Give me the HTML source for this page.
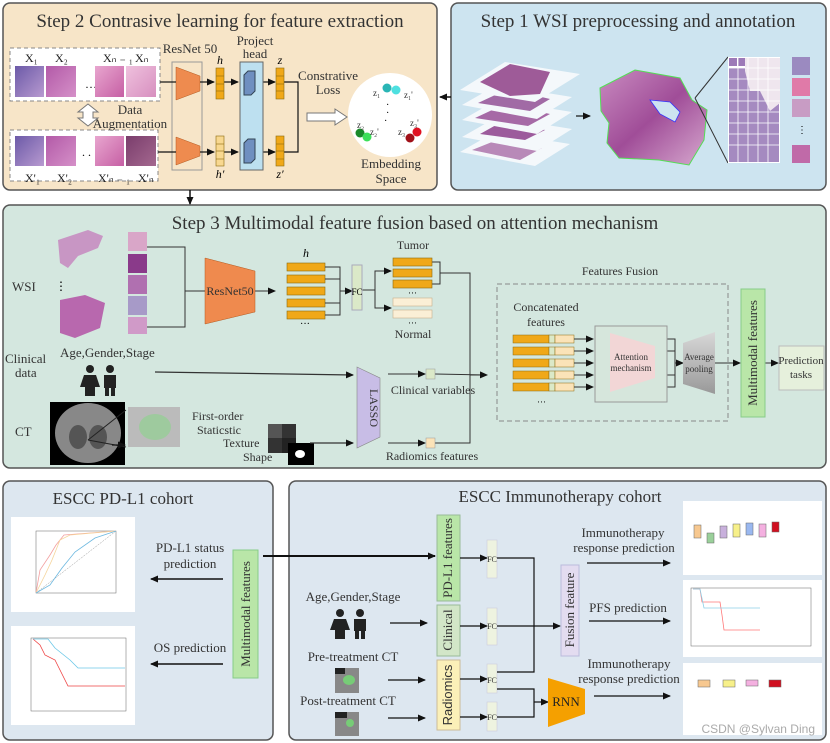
<!DOCTYPE html>
<html><head><meta charset="utf-8"><style>
html,body{margin:0;padding:0;background:#fff;}
svg{display:block;font-family:"Liberation Serif",serif;}
</style></head><body>
<svg width="830" height="743" viewBox="0 0 830 743" xmlns="http://www.w3.org/2000/svg">
<defs>
<marker id="a" markerWidth="8" markerHeight="8" refX="7" refY="4" orient="auto" markerUnits="userSpaceOnUse"><path d="M0,0.5 L8,4 L0,7.5z" fill="#111"/></marker>
<linearGradient id="tis" x1="0" y1="0" x2="1" y2="1"><stop offset="0" stop-color="#c98bc0"/><stop offset="0.5" stop-color="#a04d98"/><stop offset="1" stop-color="#d7a9cf"/></linearGradient>
<linearGradient id="pat1" x1="0" y1="0" x2="1" y2="1"><stop offset="0" stop-color="#6c5aa8"/><stop offset="1" stop-color="#b89ad0"/></linearGradient>
<linearGradient id="pat2" x1="0" y1="0" x2="1" y2="1"><stop offset="0" stop-color="#b35aa8"/><stop offset="1" stop-color="#d590c8"/></linearGradient>
<linearGradient id="pat3" x1="0" y1="0" x2="1" y2="1"><stop offset="0" stop-color="#e8a6cf"/><stop offset="1" stop-color="#c65fa4"/></linearGradient>
<linearGradient id="pat4" x1="0" y1="0" x2="1" y2="1"><stop offset="0" stop-color="#7a3d6c"/><stop offset="1" stop-color="#a4688f"/></linearGradient>
<linearGradient id="grey" x1="0" y1="0" x2="0" y2="1"><stop offset="0" stop-color="#d8d8d8"/><stop offset="1" stop-color="#999"/></linearGradient>
</defs>

<!-- Panels -->
<rect x="3" y="3" width="434" height="187" rx="7" fill="#f7e5c8" stroke="#555" stroke-width="1.5"/>
<rect x="451" y="3" width="375" height="187" rx="7" fill="#cde4f0" stroke="#555" stroke-width="1.5"/>
<rect x="3" y="205" width="823" height="263" rx="7" fill="#d4e7df" stroke="#555" stroke-width="1.5"/>
<rect x="3" y="481" width="270" height="259" rx="7" fill="#dde7f0" stroke="#555" stroke-width="1.5"/>
<rect x="289" y="481" width="537" height="259" rx="7" fill="#dde7f0" stroke="#555" stroke-width="1.5"/>

<!-- Step 2 -->
<text x="220" y="27" font-size="19" text-anchor="middle" fill="#333">Step 2 Contrasive learning for feature extraction</text>
<rect x="10" y="48" width="150" height="53" fill="#fff" stroke="#888" stroke-dasharray="4,3"/>
<rect x="10" y="130" width="148" height="51" fill="#fff" stroke="#888" stroke-dasharray="4,3"/>
<g font-size="12" fill="#222">
<text x="25" y="62">X₁</text><text x="55" y="62">X₂</text><text x="103" y="62">Xₙ ₋ ₁</text><text x="135" y="62">Xₙ</text>
<text x="25" y="182">X'₁</text><text x="57" y="182">X'₂</text><text x="98" y="182">X'ₙ ₋ ₁</text><text x="138" y="182">X'ₙ</text>
</g>
<rect x="15" y="66" width="29" height="31" fill="url(#pat1)"/><rect x="46" y="66" width="30" height="31" fill="url(#pat2)"/>
<text x="85" y="88" font-size="12">…</text>
<rect x="95" y="66" width="29" height="31" fill="url(#pat3)"/><rect x="126" y="66" width="30" height="31" fill="url(#pat3)" opacity="0.7"/>
<rect x="15" y="136" width="29" height="30" fill="url(#pat1)"/><rect x="46" y="136" width="30" height="30" fill="url(#pat2)"/>
<text x="82" y="156" font-size="12">. .</text>
<rect x="95" y="136" width="29" height="30" fill="url(#pat3)"/><rect x="126" y="136" width="30" height="30" fill="url(#pat4)"/>
<path d="M88,104 l-10,8 h5 v6 h-5 l10,8 l10,-8 h-5 v-6 h5z" fill="#fff" stroke="#777"/>
<text x="130" y="114" font-size="13" text-anchor="middle" fill="#333">Data</text>
<text x="130" y="128" font-size="13" text-anchor="middle" fill="#333">Augmentation</text>
<text x="190" y="53" font-size="13" text-anchor="middle" fill="#333">ResNet 50</text>
<rect x="172" y="62" width="30" height="108" fill="none" stroke="#999"/>
<path d="M176,67 L200,76 L200,91 L176,100z" fill="#ee8b4f" stroke="#b35a20" stroke-width="0.5"/>
<path d="M176,137 L200,146 L200,156 L176,165z" fill="#ee8b4f" stroke="#b35a20" stroke-width="0.5"/>
<g stroke="#111" stroke-width="1.2" fill="none">
<line x1="160" y1="82" x2="176" y2="82"/><line x1="158" y1="152" x2="176" y2="152"/>
<line x1="200" y1="82" x2="214" y2="82" marker-end="url(#a)"/><line x1="200" y1="152" x2="214" y2="152" marker-end="url(#a)"/>
<line x1="224" y1="82" x2="238" y2="82" marker-end="url(#a)"/><line x1="224" y1="152" x2="238" y2="152" marker-end="url(#a)"/>
<line x1="263" y1="82" x2="275" y2="82" marker-end="url(#a)"/><line x1="263" y1="152" x2="275" y2="152" marker-end="url(#a)"/>
<polyline points="284,82 298,82 298,152 284,152"/>
</g>
<g stroke="#8a6a10" stroke-width="0.6">
<rect x="216" y="68" width="8" height="31" fill="#f0a818"/><line x1="216" y1="76" x2="224" y2="76"/><line x1="216" y1="84" x2="224" y2="84"/><line x1="216" y1="91" x2="224" y2="91"/>
<rect x="216" y="136" width="8" height="30" fill="#f8d890"/><line x1="216" y1="144" x2="224" y2="144"/><line x1="216" y1="151" x2="224" y2="151"/><line x1="216" y1="159" x2="224" y2="159"/>
<rect x="276" y="68" width="8" height="31" fill="#f0a818"/><line x1="276" y1="76" x2="284" y2="76"/><line x1="276" y1="84" x2="284" y2="84"/><line x1="276" y1="91" x2="284" y2="91"/>
<rect x="276" y="136" width="8" height="30" fill="#f0a818"/><line x1="276" y1="144" x2="284" y2="144"/><line x1="276" y1="151" x2="284" y2="151"/><line x1="276" y1="159" x2="284" y2="159"/>
</g>
<text x="220" y="64" font-size="12" font-style="italic" text-anchor="middle">h</text>
<text x="220" y="178" font-size="12" font-style="italic" text-anchor="middle">h′</text>
<text x="280" y="64" font-size="12" font-style="italic" text-anchor="middle">z</text>
<text x="280" y="178" font-size="12" font-style="italic" text-anchor="middle">z′</text>
<text x="255" y="45" font-size="13" text-anchor="middle" fill="#333">Project</text>
<text x="255" y="58" font-size="13" text-anchor="middle" fill="#333">head</text>
<rect x="240" y="62" width="23" height="108" fill="#bde0f0" stroke="#666"/>
<path d="M244,75 l4,-4 h7 v20 l-4,4 h-7z" fill="#6f8fc0" stroke="#345"/>
<path d="M244,143 l4,-4 h7 v20 l-4,4 h-7z" fill="#6f8fc0" stroke="#345"/>
<text x="328" y="80" font-size="13" text-anchor="middle" fill="#333">Constrative</text>
<text x="328" y="94" font-size="13" text-anchor="middle" fill="#333">Loss</text>
<path d="M307,113 h28 v-4 l12,8 l-12,8 v-4 h-28z" fill="#fff" stroke="#777"/>
<circle cx="390" cy="115" r="42" fill="#fff"/>
<circle cx="387" cy="88" r="4.5" fill="#2ab5b5"/><circle cx="396" cy="90" r="4.5" fill="#4ee0e0"/>
<circle cx="360" cy="133" r="4.5" fill="#1a8a2a"/><circle cx="367" cy="137" r="4.5" fill="#3ce05a"/>
<circle cx="417" cy="132" r="4.5" fill="#e01020"/><circle cx="410" cy="138" r="4.5" fill="#a01018"/>
<g font-size="9" fill="#333"><text x="373" y="96">z₁</text><text x="404" y="98">z₁'</text><text x="357" y="128">z₂</text><text x="370" y="135">z₂'</text><text x="398" y="135">z₃</text><text x="410" y="126">z₃'</text></g>
<text x="386" y="108" font-size="10">·</text><text x="386" y="116" font-size="10">·</text><text x="384" y="124" font-size="10">·</text>
<text x="391" y="168" font-size="13" text-anchor="middle" fill="#333">Embedding</text>
<text x="391" y="183" font-size="13" text-anchor="middle" fill="#333">Space</text>
<line x1="451" y1="97" x2="440" y2="97" stroke="#111" stroke-width="1.5" marker-end="url(#a)"/>
<line x1="190" y1="190" x2="190" y2="204" stroke="#111" stroke-width="1.5" marker-end="url(#a)"/>

<!-- Step 1 -->
<text x="638" y="27" font-size="19" text-anchor="middle" fill="#333">Step 1 WSI preprocessing and annotation</text>
<g>
<path d="M460,152 l35,-20 l75,12 l-35,22z" fill="#f4f8fb"/><path d="M472,150 l30,-12 l40,10 l-22,12z" fill="#b889b8"/>
<path d="M462,137 l35,-20 l75,12 l-35,22z" fill="#f4f8fb"/><path d="M480,134 l25,-14 l40,10 l-20,10z" fill="#9c5b9c"/>
<path d="M462,120 l35,-20 l75,12 l-35,22z" fill="#f4f8fb"/><path d="M475,118 l30,-14 l45,10 l-22,12z" fill="#a66aa6"/>
<path d="M462,105 l35,-20 l75,12 l-35,22z" fill="#f4f8fb"/><path d="M478,103 l30,-14 l42,10 l-20,12z" fill="#a16aa5"/>
<path d="M460,90 l45,-28 l75,12 l-45,28z" fill="#f4f8fb"/><path d="M480,82 l30,-18 l40,8 l-10,22 l-30,2z" fill="#9e5b98"/>
</g>
<line x1="576" y1="116" x2="590" y2="116" stroke="#111" stroke-width="1.2" marker-end="url(#a)"/>
<path d="M600,88 l35,-18 l45,8 l12,22 l15,10 l-3,30 l-15,25 l-30,-5 l-40,-2 l-12,-15 l2,-20 l-8,-12z" fill="url(#tis)" stroke="#5d5" stroke-width="1"/>
<path d="M650,100 l20,2 l10,10 l-5,10 l-15,-8z" fill="#cde4f0" stroke="#33f" stroke-width="0.8"/>
<line x1="695" y1="98" x2="728" y2="57" stroke="#333"/><line x1="695" y1="98" x2="728" y2="163" stroke="#333"/>
<rect x="728" y="57" width="52" height="106" fill="#fff"/>
<g fill="#9d7ab8">
<rect x="729" y="58" width="8" height="8"/><rect x="738" y="58" width="8" height="8"/>
<rect x="729" y="68" width="50" height="94" fill="#a58ac0"/>
</g>
<path d="M745,58 h35 v45 l-10,8 l-10,-20 l-10,0 l-5,-20z" fill="#efe6ee"/>
<g stroke="#fff" stroke-width="0.8"><line x1="728" y1="68" x2="780" y2="68"/><line x1="728" y1="79" x2="780" y2="79"/><line x1="728" y1="90" x2="780" y2="90"/><line x1="728" y1="101" x2="780" y2="101"/><line x1="728" y1="112" x2="780" y2="112"/><line x1="728" y1="123" x2="780" y2="123"/><line x1="728" y1="134" x2="780" y2="134"/><line x1="728" y1="145" x2="780" y2="145"/><line x1="738" y1="57" x2="738" y2="163"/><line x1="748" y1="57" x2="748" y2="163"/><line x1="758" y1="57" x2="758" y2="163"/><line x1="768" y1="57" x2="768" y2="163"/></g>
<rect x="792" y="57" width="18" height="18" fill="#9b8ac0"/><rect x="792" y="78" width="18" height="18" fill="#e07aa8"/><rect x="792" y="99" width="18" height="18" fill="#c89cc4"/>
<text x="797" y="133" font-size="10">⋮</text><rect x="792" y="145" width="18" height="18" fill="#c06aa8"/>

<!-- Step 3 -->
<text x="415" y="229" font-size="19" text-anchor="middle" fill="#333">Step 3 Multimodal feature fusion based on attention mechanism</text>
<g font-size="13" fill="#333">
<text x="12" y="291">WSI</text><text x="5" y="363">Clinical</text><text x="15" y="377">data</text><text x="15" y="436">CT</text>
<text x="60" y="357">Age,Gender,Stage</text>
</g>
<path d="M58,240 l30,-10 l15,6 l-5,12 l-20,8 l-10,12 l-8,-5z" fill="#c896c4"/>
<text x="55" y="290" font-size="12">⋮</text>
<path d="M60,300 l25,-5 l20,8 l-5,25 l-25,10 l-15,-5z" fill="#b868ae"/>
<rect x="128" y="232" width="19" height="19" fill="#d9a6c8"/><rect x="128" y="254" width="19" height="19" fill="#8a3a8a"/><rect x="128" y="275" width="19" height="19" fill="#b070b0"/><rect x="128" y="296" width="19" height="19" fill="#a79ac8"/><rect x="128" y="317" width="19" height="17" fill="#d09ac8"/>
<g stroke="#333" stroke-width="1" fill="none">
<polyline points="147,247 185,247 185,327 147,327"/>
<line x1="185" y1="291" x2="205" y2="291"/>
<line x1="255" y1="291" x2="275" y2="291" marker-end="url(#a)"/>
</g>
<path d="M205,258 L255,271 L255,312 L205,324z" fill="#ef8a4e" stroke="#b35a20" stroke-width="0.5"/>
<text x="230" y="295" font-size="12" text-anchor="middle" fill="#333">ResNet50</text>
<text x="306" y="257" font-size="12" font-style="italic" text-anchor="middle">h</text>
<g fill="#f0a818" stroke="#8a6a10" stroke-width="0.6">
<rect x="287" y="263" width="38" height="8"/><rect x="287" y="275" width="38" height="8"/><rect x="287" y="287" width="38" height="8"/><rect x="287" y="299" width="38" height="8"/><rect x="287" y="311" width="38" height="8"/>
</g>
<text x="300" y="327" font-size="10">···</text>
<g stroke="#333" stroke-width="1" fill="none">
<polyline points="325,267 340,267 340,315 325,315"/><line x1="325" y1="279" x2="340" y2="279"/><line x1="325" y1="303" x2="340" y2="303"/>
<line x1="340" y1="291" x2="352" y2="291" marker-end="url(#a)"/>
<polyline points="362,290 375,290 375,271 391,271" marker-end="url(#a)"/>
<polyline points="375,290 375,308 391,308" marker-end="url(#a)"/>
<polyline points="432,262 440,262 440,284 432,284"/>
<polyline points="440,273 470,273 470,375 487,375"/>
</g>
<rect x="352" y="265" width="10" height="45" fill="#dbe9c8" stroke="#aab"/>
<text x="357" y="295" font-size="9" text-anchor="middle">FC</text>
<text x="413" y="249" font-size="12" text-anchor="middle" fill="#333">Tumor</text>
<g fill="#f0a818" stroke="#8a6a10" stroke-width="0.6"><rect x="393" y="258" width="39" height="8"/><rect x="393" y="269" width="39" height="8"/><rect x="393" y="280" width="39" height="8"/></g>
<text x="408" y="296" font-size="9">···</text>
<g fill="#fbefd6" stroke="#c8b08a" stroke-width="0.6"><rect x="393" y="298" width="39" height="8"/><rect x="393" y="310" width="39" height="8"/></g>
<text x="408" y="326" font-size="9">···</text>
<text x="413" y="338" font-size="12" text-anchor="middle" fill="#333">Normal</text>
<g fill="#222">
<circle cx="90" cy="369" r="4"/><path d="M84,375 h12 l4,12 h-5 v9 h-10 v-9 h-5z"/>
<circle cx="110" cy="369" r="4"/><rect x="104" y="375" width="12" height="13"/><rect x="105" y="388" width="4" height="8"/><rect x="111" y="388" width="4" height="8"/>
</g>
<line x1="155" y1="372" x2="353" y2="375" stroke="#333" stroke-width="1.2" marker-end="url(#a)"/>
<rect x="50" y="402" width="75" height="63" fill="#000"/>
<ellipse cx="88" cy="433" rx="33" ry="30" fill="#888"/>
<ellipse cx="78" cy="437" rx="9" ry="12" fill="#555"/><ellipse cx="98" cy="437" rx="9" ry="12" fill="#555"/>
<line x1="88" y1="440" x2="126" y2="410" stroke="#222"/><line x1="88" y1="440" x2="126" y2="447" stroke="#222"/>
<rect x="128" y="407" width="52" height="40" fill="#bbb"/><ellipse cx="155" cy="427" rx="16" ry="13" fill="#9c9" opacity="0.85"/>
<line x1="112" y1="445" x2="125" y2="445" stroke="#111" stroke-width="1.2" marker-end="url(#a)"/>
<g font-size="12" fill="#333"><text x="192" y="420">First-order</text><text x="197" y="434">Staticstic</text><text x="223" y="447">Texture</text><text x="243" y="461">Shape</text></g>
<rect x="268" y="424" width="28" height="29" fill="#333"/><rect x="268" y="424" width="14" height="14" fill="#555"/><rect x="282" y="438" width="14" height="15" fill="#222"/>
<rect x="288" y="443" width="26" height="22" fill="#000"/><ellipse cx="300" cy="454" rx="5" ry="4" fill="#fff"/>
<line x1="310" y1="443" x2="353" y2="443" stroke="#333" stroke-width="1.2" marker-end="url(#a)"/>
<path d="M357,367 L380,378 L380,437 L357,448z" fill="#c8bde6" stroke="#888" stroke-width="0.6"/>
<text x="370" y="408" font-size="12" text-anchor="middle" transform="rotate(90 370 408)" fill="#333">LASSO</text>
<g stroke="#333" stroke-width="1" fill="none">
<line x1="388" y1="374" x2="425" y2="374" marker-end="url(#a)"/><line x1="435" y1="374" x2="487" y2="375" marker-end="url(#a)"/>
<line x1="388" y1="443" x2="425" y2="443" marker-end="url(#a)"/><polyline points="435,443 470,443 470,375"/>
</g>
<rect x="426" y="369" width="9" height="10" fill="#dbe9c8" stroke="#999" stroke-width="0.5"/>
<rect x="426" y="438" width="9" height="10" fill="#fbe3b8" stroke="#999" stroke-width="0.5"/>
<text x="433" y="394" font-size="12" text-anchor="middle" fill="#333">Clinical variables</text>
<text x="432" y="460" font-size="12" text-anchor="middle" fill="#333">Radiomics features</text>
<text x="620" y="275" font-size="12" text-anchor="middle" fill="#333">Features Fusion</text>
<rect x="497" y="284" width="231" height="137" fill="none" stroke="#888" stroke-dasharray="5,3"/>
<text x="546" y="311" font-size="12" text-anchor="middle" fill="#333">Concatenated</text>
<text x="546" y="326" font-size="12" text-anchor="middle" fill="#333">features</text>
<g stroke="#8a6a10" stroke-width="0.5">
<g fill="#f0a818"><rect x="513" y="335" width="36" height="8"/><rect x="513" y="347" width="36" height="8"/><rect x="513" y="359" width="36" height="8"/><rect x="513" y="371" width="36" height="8"/><rect x="513" y="383" width="36" height="8"/></g>
<g fill="#dbe9c8"><rect x="549" y="335" width="6" height="8"/><rect x="549" y="347" width="6" height="8"/><rect x="549" y="359" width="6" height="8"/><rect x="549" y="371" width="6" height="8"/><rect x="549" y="383" width="6" height="8"/></g>
<g fill="#fbe3b8"><rect x="555" y="335" width="19" height="8"/><rect x="555" y="347" width="19" height="8"/><rect x="555" y="359" width="19" height="8"/><rect x="555" y="371" width="19" height="8"/><rect x="555" y="383" width="19" height="8"/></g>
</g>
<text x="537" y="405" font-size="9">···</text>
<g stroke="#333" stroke-width="1" fill="none">
<line x1="574" y1="339" x2="593" y2="339" marker-end="url(#a)"/><line x1="574" y1="351" x2="593" y2="351" marker-end="url(#a)"/><line x1="574" y1="363" x2="593" y2="363" marker-end="url(#a)"/><line x1="574" y1="375" x2="593" y2="375" marker-end="url(#a)"/><line x1="574" y1="387" x2="593" y2="387" marker-end="url(#a)"/>
<polyline points="667,339 675,339 675,387 667,387"/><line x1="667" y1="351" x2="675" y2="351"/><line x1="667" y1="375" x2="675" y2="375"/>
<line x1="675" y1="363" x2="683" y2="363" marker-end="url(#a)"/>
<line x1="715" y1="363" x2="740" y2="363" marker-end="url(#a)"/>
<line x1="765" y1="363" x2="778" y2="363" marker-end="url(#a)"/>
</g>
<rect x="595" y="326" width="72" height="76" fill="#d6e6dc" stroke="#999"/>
<path d="M610,333 L655,346 L655,378 L610,392z" fill="#f2d6d6"/>
<text x="631" y="360" font-size="9" text-anchor="middle" fill="#333">Attention</text>
<text x="631" y="371" font-size="9" text-anchor="middle" fill="#333">mechanism</text>
<path d="M683,343 L715,332 L715,394 L683,384z" fill="url(#grey)"/>
<text x="699" y="360" font-size="9" text-anchor="middle" fill="#333">Average</text>
<text x="699" y="372" font-size="9" text-anchor="middle" fill="#333">pooling</text>
<rect x="741" y="289" width="24" height="128" fill="#b9e6a8" stroke="#8c8" />
<text x="753" y="353" font-size="13" text-anchor="middle" transform="rotate(-90 753 353)" dy="4" fill="#333">Multimodal features</text>
<rect x="779" y="346" width="45" height="44" fill="#e6f0dc" stroke="#bbb"/>
<text x="801" y="364" font-size="11" text-anchor="middle" fill="#333">Prediction</text>
<text x="801" y="378" font-size="11" text-anchor="middle" fill="#333">tasks</text>

<!-- Bottom left -->
<text x="123" y="504" font-size="17" text-anchor="middle" fill="#333">ESCC PD-L1 cohort</text>
<rect x="11" y="517" width="124" height="95" fill="#fff"/>
<rect x="36" y="531" width="80" height="62" fill="none" stroke="#666" stroke-width="0.5"/>
<line x1="36" y1="593" x2="116" y2="531" stroke="#999" stroke-width="0.5" stroke-dasharray="2,1"/>
<polyline points="36,593 40,570 50,555 56,545 64,535 116,531" fill="none" stroke="#f3a0a0" stroke-width="0.8"/>
<polyline points="36,593 45,575 52,560 60,540 70,535 116,531" fill="none" stroke="#f5d49a" stroke-width="0.8"/>
<polyline points="36,593 50,585 62,568 75,552 95,538 116,531" fill="none" stroke="#6cb8e0" stroke-width="0.8"/>
<rect x="11" y="626" width="124" height="99" fill="#fff"/>
<rect x="31" y="638" width="95" height="73" fill="none" stroke="#666" stroke-width="0.5"/>
<polyline points="33,639 40,645 45,655 55,660 60,670 68,686 125,686" fill="none" stroke="#e44" stroke-width="0.8"/>
<polyline points="33,639 48,639 55,648 70,660 78,668 125,668" fill="none" stroke="#6cc8e8" stroke-width="0.8"/>
<text x="190" y="552" font-size="13" text-anchor="middle" fill="#333">PD-L1 status</text>
<text x="190" y="568" font-size="13" text-anchor="middle" fill="#333">prediction</text>
<text x="190" y="652" font-size="13" text-anchor="middle" fill="#333">OS prediction</text>
<line x1="223" y1="579" x2="151" y2="579" stroke="#111" stroke-width="1.5" marker-end="url(#a)"/>
<line x1="223" y1="664" x2="151" y2="664" stroke="#111" stroke-width="1.5" marker-end="url(#a)"/>
<rect x="233" y="550" width="25" height="128" fill="#b9e6a8" stroke="#8c8"/>
<text x="246" y="614" font-size="13" text-anchor="middle" transform="rotate(-90 246 614)" dy="4" fill="#333">Multimodal features</text>
<line x1="263" y1="556" x2="435" y2="556" stroke="#111" stroke-width="2" marker-end="url(#a)"/>

<!-- Bottom right -->
<text x="560" y="502" font-size="17" text-anchor="middle" fill="#333">ESCC Immunotherapy cohort</text>
<rect x="437" y="515" width="23" height="86" fill="#b9e6a8" stroke="#9b9"/>
<text x="448" y="558" font-size="13" text-anchor="middle" transform="rotate(-90 448 558)" dy="4" fill="#333">PD-L1 features</text>
<rect x="437" y="605" width="23" height="51" fill="#d2e6c8" stroke="#9b9"/>
<text x="448" y="630" font-size="13" text-anchor="middle" transform="rotate(-90 448 630)" dy="4" fill="#333">Clinical</text>
<rect x="437" y="660" width="23" height="70" fill="#fbf0b8" stroke="#cb9"/>
<text x="448" y="695" font-size="13" font-family="Liberation Sans, sans-serif" text-anchor="middle" transform="rotate(-90 448 695)" dy="4" fill="#333">Radiomics</text>
<g fill="#eef3e0" stroke="#ccd" stroke-width="0.6">
<rect x="487" y="540" width="10" height="38"/><rect x="487" y="608" width="10" height="37"/><rect x="487" y="664" width="10" height="29"/><rect x="487" y="702" width="10" height="29"/>
</g>
<g font-size="8" text-anchor="middle" fill="#333"><text x="492" y="562">FC</text><text x="492" y="629">FC</text><text x="492" y="683">FC</text><text x="492" y="720">FC</text></g>
<g stroke="#111" stroke-width="1.2" fill="none">
<line x1="460" y1="558" x2="487" y2="558" marker-end="url(#a)"/>
<line x1="460" y1="626" x2="487" y2="626" marker-end="url(#a)"/>
<line x1="460" y1="679" x2="487" y2="679" marker-end="url(#a)"/>
<line x1="460" y1="717" x2="487" y2="717" marker-end="url(#a)"/>
<polyline points="497,558 534,558 534,672 497,672"/>
<line x1="497" y1="626" x2="560" y2="626" marker-end="url(#a)"/>
<polyline points="497,689 534,689 534,717 497,717"/>
<line x1="534" y1="702" x2="548" y2="702" marker-end="url(#a)"/>
<line x1="390" y1="623" x2="427" y2="623" marker-end="url(#a)"/>
<line x1="388" y1="680" x2="425" y2="680" marker-end="url(#a)"/>
<line x1="388" y1="718" x2="425" y2="718" marker-end="url(#a)"/>
<line x1="587" y1="563" x2="670" y2="563" marker-end="url(#a)"/>
<line x1="589" y1="621" x2="670" y2="621" marker-end="url(#a)"/>
<line x1="594" y1="696" x2="670" y2="696" marker-end="url(#a)"/>
</g>
<rect x="561" y="565" width="18" height="91" fill="#e3dcf0" stroke="#bbd"/>
<text x="570" y="610" font-size="13" text-anchor="middle" transform="rotate(-90 570 610)" dy="4" fill="#333">Fusion feature</text>
<path d="M548,678 L585,689 L585,714 L548,727z" fill="#f5a000"/>
<text x="566" y="706" font-size="13" text-anchor="middle" fill="#222">RNN</text>
<g font-size="13" fill="#333" text-anchor="middle">
<text x="623" y="537">Immunotherapy</text><text x="624" y="552">response prediction</text>
<text x="628" y="612">PFS prediction</text>
<text x="629" y="668">Immunotherapy</text><text x="629" y="683">response prediction</text>
<text x="353" y="601">Age,Gender,Stage</text>
<text x="353" y="661">Pre-treatment CT</text>
<text x="348" y="705">Post-treatment CT</text>
</g>
<g fill="#222">
<circle cx="340" cy="613" r="4"/><path d="M334,619 h12 l4,11 h-5 v9 h-10 v-9 h-5z"/>
<circle cx="360" cy="613" r="4"/><rect x="354" y="619" width="12" height="12"/><rect x="355" y="631" width="4" height="8"/><rect x="361" y="631" width="4" height="8"/>
</g>
<rect x="335" y="668" width="24" height="25" fill="#888"/><ellipse cx="349" cy="680" rx="6" ry="5" fill="#7c7"/><path d="M335,668 h10 v6 h-10z" fill="#222"/>
<rect x="335" y="712" width="24" height="24" fill="#888"/><ellipse cx="350" cy="723" rx="4" ry="4" fill="#7c7"/><path d="M335,712 h12 v6 h-12z" fill="#222"/>
<rect x="683" y="501" width="139" height="74" fill="#fff"/>
<g stroke="#666" stroke-width="0.5">
<rect x="694" y="525" width="7" height="13" fill="#f7c890"/><rect x="707" y="533" width="7" height="10" fill="#9ad09a"/><rect x="720" y="526" width="7" height="12" fill="#c8b0dc"/><rect x="733" y="524" width="7" height="13" fill="#f7f08a"/><rect x="746" y="523" width="7" height="12" fill="#9ab8f0"/><rect x="759" y="524" width="7" height="13" fill="#f4b0e0"/><rect x="772" y="522" width="7" height="10" fill="#d01020"/>
</g>
<rect x="683" y="580" width="139" height="77" fill="#fff"/>
<rect x="691" y="588" width="120" height="58" fill="none" stroke="#666" stroke-width="0.5"/>
<polyline points="693,589 700,589 702,602 720,602 722,615 724,630 760,630" fill="none" stroke="#f77" stroke-width="0.8"/>
<polyline points="693,589 700,589 704,608 760,608" fill="none" stroke="#8cd0e8" stroke-width="0.8"/>
<rect x="683" y="663" width="139" height="72" fill="#fff"/>
<g stroke="#666" stroke-width="0.5">
<rect x="698" y="680" width="12" height="7" fill="#f7c890"/><rect x="723" y="680" width="12" height="7" fill="#f7f08a"/><rect x="746" y="680" width="12" height="6" fill="#f4b0e0"/><rect x="769" y="680" width="12" height="7" fill="#d01020"/>
</g>
<text x="815" y="733" font-size="12" font-family="Liberation Sans, sans-serif" text-anchor="end" fill="#aaa">CSDN @Sylvan Ding</text>
</svg>
</body></html>
